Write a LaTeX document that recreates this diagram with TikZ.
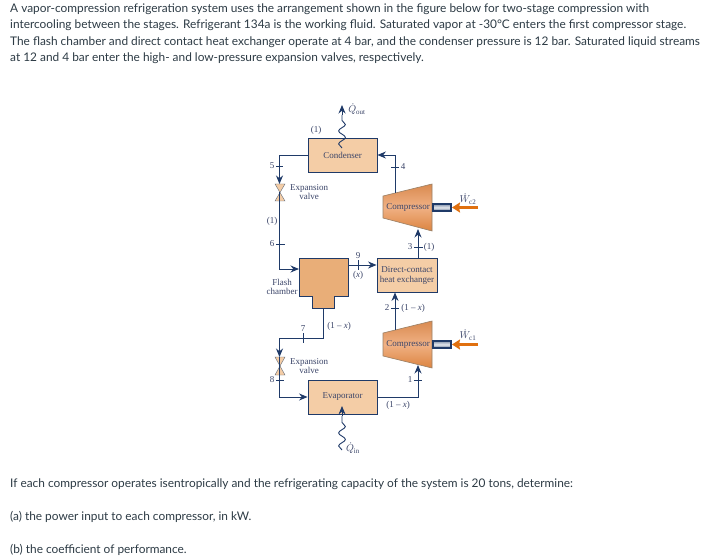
\documentclass[tikz,border=0pt]{standalone}
\usepackage{fontspec}
\setmainfont{Liberation Serif}
\newfontfamily\lato{Lato}
\usetikzlibrary{arrows.meta,decorations.pathmorphing,shadings}
\definecolor{navy}{HTML}{1F3A68}
\definecolor{boxfill}{HTML}{F4CDA6}
\definecolor{flashfill}{HTML}{E9AE78}
\definecolor{lab}{HTML}{3A4468}
\definecolor{bodytext}{HTML}{2D3B45}
\definecolor{workarrow}{HTML}{E0700F}
\definecolor{E1}{HTML}{D98A50}
\definecolor{E2}{HTML}{F0B184}
\definecolor{E3}{HTML}{DC8440}
\tikzset{
  x=1pt,y=-1pt,
  para/.style={anchor=west,inner sep=0pt,text=bodytext,font=\lato\fontsize{11.87}{14}\selectfont},
  lbl/.style={inner sep=0pt,text=lab,font=\fontsize{9}{10}\selectfont,align=center},
  mathlbl/.style={inner sep=0pt,text=lab,font=\fontsize{10}{11}\selectfont},
  unit/.style={draw=navy,line width=0.9pt,fill=boxfill,inner sep=0pt,text=lab,font=\fontsize{9}{10}\selectfont,align=center},
  pipe/.style={draw=navy,line width=0.9pt},
  flow/.style={pipe,-{Stealth[length=8.5pt,width=7pt]}},
  tick/.style={draw=navy,line width=0.7pt},
  heat/.style={draw=navy,line width=0.9pt,decorate,decoration={snake,segment length=13pt,amplitude=3.4pt}},
  work/.style={draw=workarrow,line width=3pt,-{Stealth[length=8pt,width=10pt,inset=1pt]}},
  valvepart/.style={draw=gray!70!navy,line width=0.4pt,fill=boxfill},
  bladeshade/.style={draw=gray!60!brown,line width=0.6pt,shade,top color=E1,bottom color=E3,middle color=E2},
  shaftbody/.style={draw=navy,line width=1.2pt,top color=navy!55,bottom color=navy!70,middle color=navy!12}
}
\begin{document}
\begin{tikzpicture}
\useasboundingbox (0,0) rectangle (718,559);
\fill[white] (0,0) rectangle (718,559);
% problem text
\node[para] (t1) at (10,9) {A vapor-compression refrigeration system uses the arrangement shown in the figure below for two-stage compression with};
\node[para] (t2) at (10,25) {intercooling between the stages. Refrigerant 134a is the working fluid. Saturated vapor at -30°C enters the first compressor stage.};
\node[para] (t3) at (10,42) {The flash chamber and direct contact heat exchanger operate at 4 bar, and the condenser pressure is 12 bar. Saturated liquid streams};
\node[para] (t4) at (10,58) {at 12 and 4 bar enter the high- and low-pressure expansion valves, respectively.};
\node[para] (t5) at (10,484) {If each compressor operates isentropically and the refrigerating capacity of the system is 20 tons, determine:};
\node[para] (t6) at (10,517) {(a) the power input to each compressor, in kW.};
\node[para] (t7) at (10,550) {(b) the coefficient of performance.};

% units
\node[unit,minimum width=69pt,minimum height=34pt] (cond) at (342.5,155) {Condenser};
\node[unit,minimum width=69pt,minimum height=34pt] (evap) at (342.5,397) {Evaporator};
\node[unit,minimum width=60pt,minimum height=34pt] (dchx) at (407,275) {Direct-contact\\heat exchanger};

% flash chamber
\path[draw=navy,line width=0.9pt,fill=flashfill] (299,258) -- (348,258) -- (348,296) -- (334,296) -- (334,308) -- (312,308) -- (312,296) -- (299,296) -- cycle;
\coordinate (flashin) at (299,269);
\coordinate (flashout) at (348,265);
\coordinate (flashdrain) at (323,308);

% compressors
\path[bladeshade] (383,196) -- (432,184) -- (432,231) -- (383,218) -- cycle;
\path[bladeshade] (383,333) -- (432,321) -- (432,368) -- (383,356) -- cycle;
\node[lbl] (c2) at (408,207) {Compressor};
\node[lbl] (c1) at (408,344) {Compressor};
\path[shaftbody] (433,204) rectangle (451,211);
\path[shaftbody] (433,341) rectangle (451,348);
\coordinate (c2top) at (395,193);
\coordinate (c2bot) at (418,229);
\coordinate (c1top) at (395,330);
\coordinate (c1bot) at (418,365);
\coordinate (c2shaft) at (452,207.5);
\coordinate (c1shaft) at (452,344.5);
\coordinate (w2end) at (478,207.5);
\coordinate (w1end) at (478,344.5);

% valves
\coordinate (v1) at (279.5,192.5);
\coordinate (v2) at (279.5,366);
\path[valvepart] (275,184) -- (285,184) -- (275,201) -- (285,201) -- cycle;
\path[valvepart] (275,357) -- (285,357) -- (275,375) -- (285,375) -- cycle;
\coordinate (v1t) at (279.5,184);
\coordinate (v1b) at (279.5,201);
\coordinate (v2t) at (279.5,357);
\coordinate (v2b) at (279.5,375);

% piping
\draw[flow] (cond.west) -| (v1t);
\draw[pipe] (v1b) -- (v1);
\draw[flow] (v1b) |- (flashin);
\draw[flow] (flashout) -- (flashout -| dchx.west);
\draw[flow] (flashdrain) |- (279.5,338) -- (v2t);
\draw[pipe] (v2t) -- (v2b);
\draw[flow] (v2b) |- (evap.west);
\draw[flow] (evap.east) -| (c1bot);
\draw[flow] (c1top) -- (c1top |- dchx.south);
\draw[flow] (c2bot |- dchx.north) -- (c2bot);
\draw[flow] (c2top) |- (cond.east);

% ticks
\draw[tick] (276,166) -- (283,166);
\draw[tick] (276,244) -- (285,244);
\draw[tick] (358,260) -- (358,270);
\draw[tick] (303,333) -- (303,343);
\draw[tick] (276,380) -- (283.5,380);
\draw[tick] (414,380) -- (422,380);
\draw[tick] (391,308) -- (399,308);
\draw[tick] (414,247) -- (423,247);
\draw[tick] (391,167) -- (399,167);

% work arrows
\draw[work] (w2end) -- (c2shaft);
\draw[work] (w1end) -- (c1shaft);

% heat
\coordinate (qouta) at (342,148);
\coordinate (qoutb) at (342,115);
\coordinate (qouttip) at (342,105);
\coordinate (qina) at (342,450);
\coordinate (qinb) at (342,416);
\coordinate (qintip) at (342,406);
\draw[heat] (qouta) -- (qoutb);
\draw[flow] (qoutb) -- (qouttip);
\draw[heat] (qina) -- (qinb);
\draw[flow] (qinb) -- (qintip);

% labels
\node[lbl] (l1) at (316,130) {(1)};
\node[lbl] (l5) at (272,166) {5};
\node[lbl] (lv1) at (309,192) {Expansion\\[-1pt]valve};
\node[lbl] (lb1) at (272,221) {(1)};
\node[lbl] (l6) at (272,244) {6};
\node[lbl] (l9) at (358,256) {9};
\node[lbl] (lx) at (358,275) {(\textit{x})};
\node[lbl] (lfl) at (282,287) {Flash\\[-1pt]chamber};
\node[lbl] (l7) at (303,329) {7};
\node[lbl] (lm7) at (339,326) {(1 – \textit{x})};
\node[lbl] (lv2) at (309,366) {Expansion\\[-1pt]valve};
\node[lbl] (l8) at (272,380) {8};
\node[lbl] (l1b) at (410,380) {1};
\node[lbl] (lm1) at (398,405) {(1 – \textit{x})};
\node[lbl] (l2) at (387,308) {2};
\node[lbl] (lm2) at (413,308) {(1 – \textit{x})};
\node[lbl] (l3) at (410,247) {3};
\node[lbl] (l3b) at (429,247) {(1)};
\node[lbl] (l4) at (403,167) {4};
\node[mathlbl] (lw2) at (468,199) {$\dot{W}_{\mathrm{c2}}$};
\node[mathlbl] (lw1) at (468,335) {$\dot{W}_{\mathrm{c1}}$};
\node[mathlbl] (lqo) at (357,109) {$\dot{Q}_{\mathrm{out}}$};
\node[mathlbl] (lqi) at (353,448) {$\dot{Q}_{\mathrm{in}}$};
\end{tikzpicture}
\end{document}
